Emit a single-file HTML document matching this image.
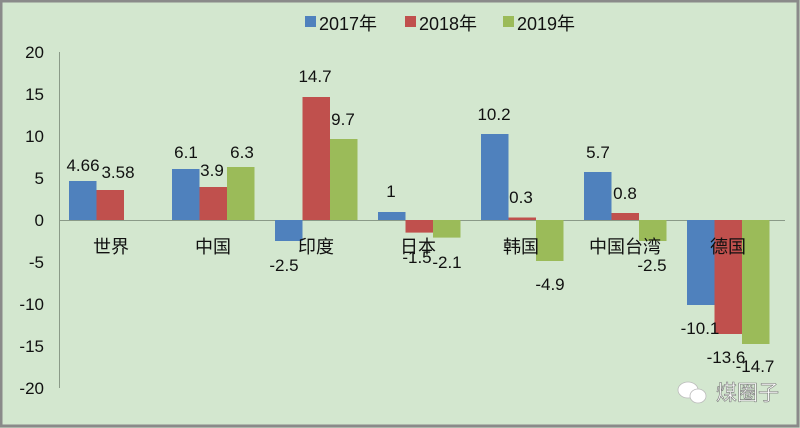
<!DOCTYPE html>
<html><head><meta charset="utf-8"><style>
html,body{margin:0;padding:0;}
body{width:800px;height:428px;overflow:hidden;background:#d3e7cf;}
svg{display:block;}
text{font-family:"Liberation Sans","Noto Sans CJK SC",sans-serif;fill:#111;}
</style></head><body>
<svg width="800" height="428" viewBox="0 0 800 428">
<rect x="0" y="0" width="800" height="428" fill="#d3e7cf"/>
<rect x="1" y="1" width="797" height="425" fill="none" stroke="#8a8a8a" stroke-width="3"/>
<line x1="59.5" y1="52" x2="59.5" y2="388" stroke="#8a9a88" stroke-width="1"/>
<line x1="59" y1="220.5" x2="785" y2="220.5" stroke="#8a9a88" stroke-width="1"/>
<g font-size="17" text-anchor="end">
<text x="44" y="58">20</text><text x="44" y="100">15</text><text x="44" y="142">10</text>
<text x="44" y="184">5</text><text x="44" y="226">0</text><text x="44" y="268">-5</text>
<text x="44" y="310">-10</text><text x="44" y="352">-15</text><text x="44" y="394">-20</text>
</g>
<!-- legend -->
<rect x="305" y="16" width="11" height="11" fill="#4f81bd"/><text x="319" y="30" font-size="18">2017年</text>
<rect x="405" y="16" width="11" height="11" fill="#c0504d"/><text x="419" y="30" font-size="18">2018年</text>
<rect x="503" y="16" width="11" height="11" fill="#9bbb59"/><text x="517" y="30" font-size="18">2019年</text>
<!-- bars -->
<g>
<rect x="69" y="181" width="27.5" height="39" fill="#4f81bd"/>
<rect x="96.5" y="190" width="27.5" height="30" fill="#c0504d"/>

<rect x="172" y="169" width="27.5" height="51" fill="#4f81bd"/>
<rect x="199.5" y="187" width="27.5" height="33" fill="#c0504d"/>
<rect x="227" y="167" width="27.5" height="53" fill="#9bbb59"/>

<rect x="275" y="220" width="27.5" height="21" fill="#4f81bd"/>
<rect x="302.5" y="97" width="27.5" height="123" fill="#c0504d"/>
<rect x="330" y="139" width="27.5" height="81" fill="#9bbb59"/>

<rect x="378" y="212" width="27.5" height="8" fill="#4f81bd"/>
<rect x="405.5" y="220" width="27.5" height="12.6" fill="#c0504d"/>
<rect x="433" y="220" width="27.5" height="17.6" fill="#9bbb59"/>

<rect x="481" y="134" width="27.5" height="86" fill="#4f81bd"/>
<rect x="508.5" y="217.5" width="27.5" height="2.5" fill="#c0504d"/>
<rect x="536" y="220" width="27.5" height="41" fill="#9bbb59"/>

<rect x="584" y="172" width="27.5" height="48" fill="#4f81bd"/>
<rect x="611.5" y="213" width="27.5" height="7" fill="#c0504d"/>
<rect x="639" y="220" width="27.5" height="21" fill="#9bbb59"/>

<rect x="687" y="220" width="27.5" height="85" fill="#4f81bd"/>
<rect x="714.5" y="220" width="27.5" height="114" fill="#c0504d"/>
<rect x="742" y="220" width="27.5" height="124" fill="#9bbb59"/>
</g>
<!-- category labels -->
<g font-size="18" text-anchor="middle">
<text x="111" y="253">世界</text><text x="213" y="253">中国</text><text x="316" y="253">印度</text>
<text x="418" y="253">日本</text><text x="521" y="253">韩国</text><text x="625" y="253">中国台湾</text>
<text x="728" y="253">德国</text>
</g>
<!-- value labels -->
<g font-size="17" text-anchor="middle">
<text x="83" y="171">4.66</text><text x="118" y="178">3.58</text>
<text x="186" y="158">6.1</text><text x="212" y="176">3.9</text><text x="242" y="158">6.3</text>
<text x="284" y="271">-2.5</text><text x="315" y="82">14.7</text><text x="343" y="125">9.7</text>
<text x="391" y="197">1</text><text x="417" y="263">-1.5</text><text x="447" y="268">-2.1</text>
<text x="494" y="120">10.2</text><text x="521" y="203">0.3</text><text x="550" y="290">-4.9</text>
<text x="598" y="158">5.7</text><text x="625" y="199">0.8</text><text x="652" y="271">-2.5</text>
<text x="700" y="334">-10.1</text><text x="726" y="363">-13.6</text><text x="755" y="372">-14.7</text>
</g>
<!-- watermark -->
<g fill="#fff" stroke="#bbb" stroke-width="0.8">
<ellipse cx="688" cy="390" rx="10" ry="8"/><ellipse cx="698" cy="396" rx="8" ry="7"/>
</g>
<text x="716" y="400" font-size="21" style="fill:#fff;stroke:#777;stroke-width:0.6">煤圈子</text>
</svg>
</body></html>
